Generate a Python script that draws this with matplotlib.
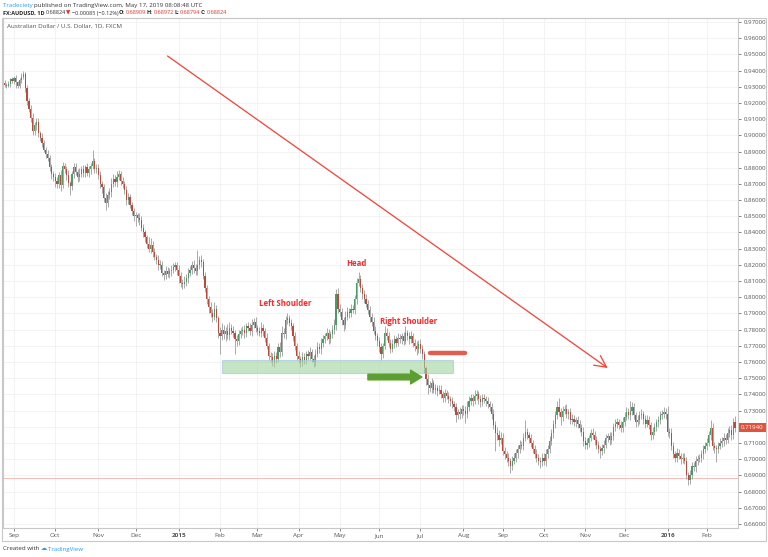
import matplotlib
matplotlib.use('Agg')
import matplotlib.pyplot as plt
import matplotlib.patches as mpatches
import numpy as np
import pandas as pd

plt.rcParams['font.family'] = ['Open Sans', 'DejaVu Sans']

# daily closes (price x 10000), one list per month
c_2014_08 = [9312, 9306, 9318, 9345, 9338]
c_2014_09 = [9352, 9328, 9305, 9340, 9362, 9378, 9290, 9210, 9160, 9105, 9025, 9065, 9085, 9012, 8985, 8950, 8912, 8885, 8862, 8805, 8762, 8745]
c_2014_10 = [8718, 8702, 8758, 8692, 8812, 8790, 8752, 8703, 8690, 8760, 8802, 8772, 8742, 8762, 8792, 8770, 8802, 8768, 8790, 8812, 8842, 8790, 8800]
c_2014_11 = [8758, 8702, 8680, 8612, 8580, 8630, 8652, 8702, 8732, 8710, 8742, 8762, 8720, 8702, 8660, 8600, 8622, 8572, 8530, 8500]
c_2014_12 = [8505, 8490, 8475, 8430, 8400, 8370, 8330, 8300, 8325, 8280, 8250, 8230, 8200, 8202, 8150, 8135, 8160, 8145, 8160, 8170, 8185, 8200, 8170]
c_2015_01 = [8130, 8090, 8080, 8095, 8120, 8150, 8170, 8200, 8180, 8160, 8200, 8230, 8215, 8130, 8060, 7990, 7940, 7900, 7880, 7930, 7870, 7780]
c_2015_02 = [7760, 7800, 7770, 7790, 7765, 7810, 7790, 7780, 7740, 7730, 7770, 7790, 7800, 7780, 7820, 7810, 7790, 7830, 7845, 7810]
c_2015_03 = [7790, 7780, 7810, 7790, 7750, 7700, 7640, 7630, 7600, 7640, 7620, 7690, 7660, 7780, 7770, 7860, 7870, 7840, 7820, 7760, 7700, 7640]
c_2015_04 = [7620, 7600, 7630, 7610, 7650, 7640, 7660, 7620, 7600, 7650, 7690, 7680, 7720, 7740, 7760, 7780, 7740, 7770, 7800, 7830, 8020, 7930]
c_2015_05 = [7910, 7860, 7830, 7880, 7910, 7900, 7930, 7920, 7990, 8090, 8110, 8060, 8020, 7990, 7960, 7920, 7880, 7850, 7790, 7760, 7730]
c_2015_06 = [7690, 7650, 7700, 7780, 7760, 7720, 7680, 7710, 7740, 7720, 7750, 7740, 7760, 7730, 7780, 7760, 7740, 7760, 7720, 7700, 7680, 7710]
c_2015_07 = [7680, 7650, 7560, 7495, 7460, 7440, 7470, 7430, 7440, 7420, 7430, 7400, 7380, 7410, 7390, 7370, 7360, 7340, 7320, 7270, 7290, 7280, 7310]
c_2015_08 = [7300, 7280, 7320, 7360, 7380, 7360, 7390, 7400, 7370, 7350, 7380, 7370, 7360, 7340, 7320, 7280, 7210, 7160, 7150, 7120, 7130]
c_2015_09 = [7050, 7030, 7010, 6990, 6960, 6990, 7010, 7040, 7060, 7090, 7080, 7130, 7170, 7150, 7130, 7100, 7060, 7030, 7010, 6990, 6980, 7010]
c_2015_10 = [6990, 7030, 7060, 7110, 7160, 7220, 7270, 7320, 7290, 7260, 7300, 7310, 7280, 7290, 7240, 7250, 7230, 7240, 7220, 7190, 7170, 7110]
c_2015_11 = [7090, 7100, 7130, 7160, 7150, 7120, 7090, 7060, 7050, 7070, 7090, 7130, 7140, 7120, 7140, 7200, 7220, 7230, 7210, 7190, 7230]
c_2015_12 = [7260, 7290, 7270, 7300, 7320, 7270, 7230, 7240, 7270, 7280, 7250, 7220, 7240, 7210, 7150, 7170, 7200, 7230, 7240, 7270, 7280, 7290, 7280]
c_2016_01 = [7170, 7160, 7080, 7030, 7010, 7040, 7020, 7000, 7010, 6990, 6900, 6870, 6900, 6960, 6950, 6990, 7000, 7010, 7030, 7060, 7080]
c_2016_02 = [7100, 7150, 7195, 7080, 7070, 7060, 7080, 7100, 7110, 7130, 7120, 7160, 7180, 7150, 7230, 7194]
first_open = 9325

# wick length above / below the body, in pips
wick_up = [
    15, 10, 20, 12, 18, 14, 22, 10, 16, 25, 22, 15, 18, 20, 25, 30, 20, 25, 22, 15, 28, 20, 15, 25, 18, 20, 15,
    20, 25, 15, 30, 25, 18, 20, 35, 15, 22, 30, 25, 18, 35, 20, 25, 15, 30, 20, 18, 65, 20, 25,
    25, 20, 15, 18, 30, 25, 20, 35, 30, 22, 40, 25, 18, 20, 15, 25, 20, 18, 15, 20,
    20, 15, 30, 25, 20, 18, 15, 45, 40, 20, 25, 15, 30, 25, 20, 18, 35, 25, 20, 30, 25, 20, 15,
    30, 25, 20, 35, 25, 30, 20, 25, 30, 25, 90, 25, 30, 20, 25, 18, 20, 30, 25, 40, 20, 15,
    35, 40, 30, 25, 45, 40, 25, 30, 20, 25, 30, 20, 25, 30, 20, 25, 30, 35, 25, 30,
    20, 25, 40, 25, 20, 30, 15, 20, 25, 30, 20, 25, 35, 40, 30, 25, 35, 20, 25, 20, 25, 20,
    25, 20, 30, 25, 20, 25, 30, 20, 25, 30, 35, 25, 30, 25, 20, 30, 25, 20, 30, 35, 30, 40,
    30, 25, 20, 35, 30, 25, 30, 20, 25, 30, 45, 25, 20, 25, 30, 20, 25, 20, 25, 30, 20,
    25, 30, 20, 40, 30, 25, 20, 30, 25, 20, 30, 25, 20, 25, 45, 20, 25, 30, 20, 25, 30, 25,
    30, 25, 20, 15, 30, 25, 30, 20, 25, 20, 25, 30, 20, 25, 20, 25, 20, 25, 20, 25, 20, 30, 25,
    25, 30, 40, 30, 25, 20, 35, 25, 20, 25, 20, 25, 20, 25, 20, 25, 30, 25, 40, 30, 35,
    30, 25, 20, 25, 20, 30, 25, 20, 25, 30, 25, 30, 70, 25, 20, 25, 20, 25, 30, 20, 25, 30,
    25, 30, 25, 30, 25, 20, 30, 40, 60, 25, 30, 25, 30, 20, 25, 30, 25, 20, 25, 20, 25, 30,
    25, 30, 20, 25, 30, 25, 20, 25, 20, 25, 30, 25, 20, 25, 30, 25, 30, 25, 20, 25, 30,
    30, 35, 25, 60, 30, 25, 20, 30, 25, 30, 20, 25, 30, 25, 20, 30, 25, 20, 25, 30, 25, 35, 25,
    50, 25, 30, 25, 20, 30, 25, 20, 25, 30, 25, 20, 30, 25, 20, 30, 25, 20, 25, 30, 25,
    30, 25, 45, 30, 25, 20, 25, 30, 25, 30, 25, 30, 25, 30, 25, 35,
]
wick_dn = [
    12, 15, 10, 18, 12, 20, 35, 15, 12, 18, 15, 20, 25, 18, 22, 20, 25, 30, 22, 20, 25, 18, 22, 20, 25, 30, 25,
    40, 30, 25, 35, 20, 25, 30, 20, 60, 30, 25, 20, 30, 25, 20, 30, 25, 20, 25, 30, 20, 25, 20,
    25, 30, 35, 25, 40, 20, 25, 30, 20, 25, 30, 20, 25, 30, 25, 30, 25, 20, 25, 30,
    60, 25, 30, 20, 25, 30, 25, 20, 25, 30, 20, 25, 30, 25, 20, 30, 25, 20, 25, 30, 20, 25, 30,
    40, 25, 30, 20, 25, 30, 20, 25, 30, 25, 20, 25, 30, 20, 25, 30, 35, 25, 30, 20, 25, 30,
    110, 25, 30, 40, 25, 30, 20, 25, 90, 30, 25, 20, 25, 30, 25, 20, 25, 30, 20, 25,
    25, 20, 25, 30, 25, 20, 25, 30, 25, 30, 25, 20, 30, 25, 20, 30, 25, 20, 25, 30, 25, 30,
    25, 30, 25, 20, 25, 30, 25, 20, 30, 25, 20, 25, 30, 25, 20, 25, 30, 25, 20, 25, 30, 25,
    25, 30, 40, 25, 20, 30, 25, 20, 25, 30, 20, 25, 30, 25, 20, 25, 30, 25, 20, 25, 30,
    30, 35, 25, 20, 25, 30, 25, 20, 25, 30, 20, 25, 30, 25, 20, 25, 30, 20, 25, 30, 35, 25,
    25, 30, 25, 40, 60, 25, 30, 20, 25, 30, 20, 25, 30, 25, 20, 25, 30, 25, 20, 40, 25, 30, 25,
    30, 55, 25, 20, 25, 30, 20, 25, 30, 25, 20, 25, 30, 25, 20, 30, 25, 110, 30, 40, 25,
    25, 30, 25, 30, 45, 25, 20, 25, 30, 25, 20, 25, 20, 25, 30, 25, 20, 25, 30, 25, 35, 25,
    25, 30, 25, 20, 25, 30, 25, 20, 25, 50, 25, 20, 25, 30, 25, 20, 25, 30, 25, 20, 25, 30,
    25, 30, 25, 20, 25, 30, 25, 20, 40, 25, 30, 20, 25, 30, 25, 20, 25, 30, 25, 20, 25,
    25, 20, 25, 30, 25, 20, 30, 25, 20, 25, 30, 25, 20, 25, 30, 25, 20, 25, 30, 25, 20, 25, 30,
    25, 30, 25, 20, 30, 25, 20, 30, 25, 20, 25, 30, 25, 20, 25, 30, 25, 20, 25, 30, 25,
    25, 20, 30, 25, 30, 80, 25, 20, 25, 30, 25, 20, 25, 30, 25, 25,
]

month_labels = ['Sep', 'Oct', 'Nov', 'Dec', '2015', 'Feb', 'Mar', 'Apr', 'May', 'Jun',
                'Jul', 'Aug', 'Sep', 'Oct', 'Nov', 'Dec', '2016', 'Feb']
last_price = 0.68824

# drawings (bar index, price)
trend_from = (87, 0.9490)
trend_to = (322, 0.7563)
zone_x = (116, 239.4)
zone_y = (0.7532, 0.7612)
red_mark = (227, 246, 0.7656)
green_arrow = (194, 222.8, 0.7507)
labels = [('Head', 188, 0.8211), ('Left Shoulder', 150, 0.7964), ('Right Shoulder', 215.5, 0.7847)]

months = [c_2014_08, c_2014_09, c_2014_10, c_2014_11, c_2014_12, c_2015_01, c_2015_02,
          c_2015_03, c_2015_04, c_2015_05, c_2015_06, c_2015_07, c_2015_08, c_2015_09,
          c_2015_10, c_2015_11, c_2015_12, c_2016_01, c_2016_02]
closes = np.array(sum(months, [])) / 1e4
opens = np.concatenate([[first_open / 1e4], closes[:-1]])
assert len(closes) == len(wick_up) == len(wick_dn), (len(closes), len(wick_up), len(wick_dn))
highs = np.maximum(opens, closes) + np.array(wick_up) / 1e4
lows = np.minimum(opens, closes) - np.array(wick_dn) / 1e4

dates = pd.bdate_range('2014-08-25', periods=len(closes))
idx = np.arange(len(closes))
month_start = [i for i in range(1, len(dates)) if dates[i].month != dates[i - 1].month]

W, H = 768, 557
fig = plt.figure(figsize=(W / 100, H / 100), dpi=100)
fig.patch.set_facecolor('white')
ax = fig.add_axes([3 / W, 1 - 528 / H, 735 / W, 510 / H])

up_col, dn_col = '#4d9a68', '#bb4a3b'
grid_col = '#f1f1f1'
frame_col = '#c8c8c8'

ax.vlines(idx, lows, highs, color='#a9a9a9', lw=0.7, zorder=2)
up = closes >= opens
body = np.maximum(np.abs(closes - opens), 0.00025)
ax.bar(idx, body, bottom=np.minimum(opens, closes), width=0.62,
       color=np.where(up, up_col, dn_col), linewidth=0, zorder=3)

# drawings
ax.add_patch(mpatches.Rectangle((zone_x[0], zone_y[0]), zone_x[1] - zone_x[0], zone_y[1] - zone_y[0],
                                facecolor='#9fd49f', alpha=0.6, edgecolor='#9cc4dd', lw=0.8, zorder=4))
ax.annotate('', xy=trend_to, xytext=trend_from,
            arrowprops=dict(arrowstyle='->,head_length=0.7,head_width=0.35', color='#f44336', lw=0.9,
                            shrinkA=0, shrinkB=0, mutation_scale=12), zorder=5)
ax.plot([red_mark[0], red_mark[1]], [red_mark[2], red_mark[2]], color='#e35d4f', lw=3.2,
        solid_capstyle='round', zorder=5)
ax.annotate('', xy=(green_arrow[1], green_arrow[2]), xytext=(green_arrow[0], green_arrow[2]),
            arrowprops=dict(arrowstyle='simple,head_length=0.9,head_width=1.1,tail_width=0.45',
                            color='#5d9e31', shrinkA=0, shrinkB=0, mutation_scale=9), zorder=5)
for txt, lx, ly in labels:
    ax.text(lx, ly, txt, color='#f22b2b', fontsize=5.6, fontweight='bold', ha='center', va='center', zorder=6)

ax.axhline(last_price, color='#f6b1ab', lw=0.6, zorder=1)

ax.set_xlim(-0.84, 391.6)
ax.set_ylim(0.65746, 0.97247)
levels = np.arange(66, 98) / 100
ax.set_yticks(levels)
# the 0.72 label sits under the last-price tag
ax.set_yticklabels(['' if round(v, 2) == 0.72 else f'{v:.5f}' for v in levels])
ax.yaxis.tick_right()
ax.set_xticks(month_start)
ax.set_xticklabels(month_labels)
for lab in ax.get_xticklabels():
    if lab.get_text() in ('2015', '2016'):
        lab.set_fontweight('bold')
ax.tick_params(axis='y', labelsize=4.4, colors='#555555', length=2.5, width=0.5, pad=1.5)
ax.tick_params(axis='x', labelsize=4.6, colors='#555555', length=2.5, width=0.5, pad=1)
ax.grid(True, color=grid_col, lw=0.6, zorder=0)
ax.set_axisbelow(True)
for s in ax.spines.values():
    s.set_color(frame_col)
    s.set_linewidth(0.8)

# last price tag
ax.annotate('0.71940', xy=(1, closes[-1]), xycoords=('axes fraction', 'data'),
            xytext=(2.2, 0), textcoords='offset points', fontsize=4.4, color='white',
            va='center', ha='left', bbox=dict(boxstyle='square,pad=0.35', fc='#e0533f', ec='none'),
            annotation_clip=False)

ax.text(4 / 735, 1 - 8 / 510, 'Australian Dollar / U.S. Dollar, 1D, FXCM', transform=ax.transAxes,
        fontsize=4.5, color='#555555', va='center', ha='left')

# outer chart frame
fig.add_artist(mpatches.Rectangle((2 / W, 1 - 541 / H), 764 / W, 523 / H, transform=fig.transFigure,
                                  fill=False, edgecolor=frame_col, lw=0.8))


def text_run(x, y, parts, size, gap=1.0):
    r = fig.canvas.get_renderer()
    for s, color, weight in parts:
        t = fig.text(x / W, 1 - y / H, s, color=color, fontsize=size, fontweight=weight,
                     va='center', ha='left')
        x += t.get_window_extent(renderer=r).width + gap


red = '#d9352b'
dark = '#333333'
text_run(3, 5, [('Tradeciety', '#2e9bf0', 'normal'),
                ('published on TradingView.com, May 17, 2019 08:08:48 UTC', dark, 'normal')], 4.4)
text_run(3, 13, [('FX:AUDUSD, 1D', '#222222', 'bold'), ('0.68824', dark, 'normal'),
                 ('▼', red, 'normal'), ('−0.00085 (−0.12%)', dark, 'normal'),
                 ('O:', '#222222', 'bold'), ('0.68909', red, 'normal'),
                 ('H:', '#222222', 'bold'), ('0.68972', red, 'normal'),
                 ('L:', '#222222', 'bold'), ('0.68794', red, 'normal'),
                 ('C:', '#222222', 'bold'), ('0.68824', red, 'normal')], 4.0, gap=0.8)
text_run(3, 549, [('Created with', dark, 'normal'), ('☁', '#2e9bf0', 'normal'),
                  ('TradingView', '#2e9bf0', 'normal')], 4.4)

fig.savefig('out.png', dpi=100)
